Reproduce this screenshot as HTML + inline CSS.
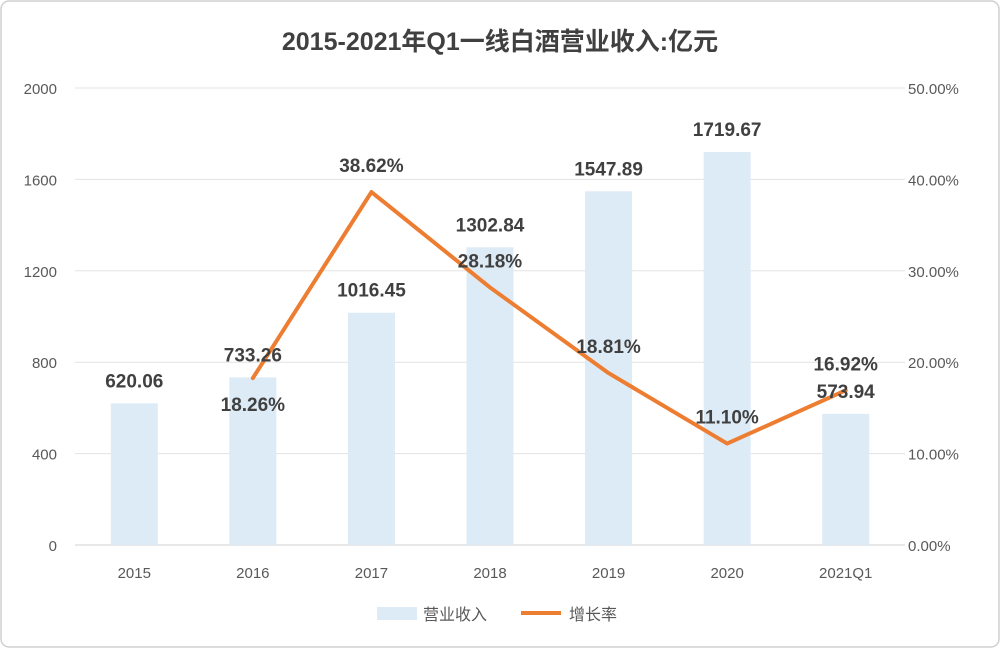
<!DOCTYPE html>
<html><head><meta charset="utf-8">
<style>
html,body{margin:0;padding:0;background:#fff;}
body{width:1000px;height:648px;overflow:hidden;font-family:"Liberation Sans","Noto Sans CJK SC",sans-serif;}
</style></head>
<body>
<svg id="chart" width="1000" height="648" xmlns="http://www.w3.org/2000/svg">
<rect x="1" y="1" width="998" height="646" rx="8" fill="#fff" stroke="#d0d0d0" stroke-width="1.5"/>
<text x="500" y="50" text-anchor="middle" font-size="25" font-weight="bold" fill="#404040" font-family="Liberation Sans,Noto Sans CJK SC,sans-serif">2015-2021年Q1一线白酒营业收入:亿元</text>
<g id="grid"></g><g id="bars"></g><g id="line"></g><g id="labels"></g><g id="axes"></g>
<g>
<rect x="377" y="607" width="40" height="13" fill="#DDEBF7"/>
<text x="423" y="620" font-size="16" fill="#595959">营业收入</text>
<line x1="521" y1="613" x2="561" y2="613" stroke="#ED7D31" stroke-width="4"/>
<text x="569" y="620" font-size="16" fill="#595959">增长率</text>
</g>
</svg>
<script>
const categories=["2015","2016","2017","2018","2019","2020","2021Q1"];
const revenue=[620.06,733.26,1016.45,1302.84,1547.89,1719.67,573.94];
const growth=[null,18.26,38.62,28.18,18.81,11.10,16.92];
const leftTicks=[0,400,800,1200,1600,2000];
const rightTicks=[0,10,20,30,40,50];
const growthLabelBelow=[false,true,false,false,false,false,false];

const NS="http://www.w3.org/2000/svg";
const X0=75,X1=905,Y0=545,Y1=88;
const band=(X1-X0)/categories.length;
const xc=i=>X0+band*(i+0.5);
const yL=v=>Y0-(v/2000)*(Y0-Y1);
const yR=v=>Y0-(v/50)*(Y0-Y1);
function mk(tag,attrs,parent,text){const e=document.createElementNS(NS,tag);for(const k in attrs)e.setAttribute(k,attrs[k]);if(text!==undefined)e.textContent=text;document.getElementById(parent).appendChild(e);return e;}

leftTicks.forEach((t,i)=>{
  const g=mk('line',{x1:X0,x2:X1,y1:yL(t),y2:yL(t),stroke:t===0?'#d0d0d0':'#e3e3e3','stroke-width':1},'grid');
  
  
  const l=mk('text',{x:57,y:yL(t)+6,'text-anchor':'end','font-size':15,fill:'#595959'},'axes',String(t));
  
  
});
rightTicks.forEach(t=>{
  const l=mk('text',{x:908,y:yR(t)+6,'font-size':15,fill:'#595959'},'axes',t.toFixed(2)+'%');
  
  
});
categories.forEach((c,i)=>{
  const l=mk('text',{x:xc(i),y:578,'text-anchor':'middle','font-size':15,fill:'#595959'},'axes',c);
  
  
});
const bw=47;
revenue.forEach((v,i)=>{
  const b=mk('rect',{x:xc(i)-bw/2,y:yL(v),width:bw,height:Y0-yL(v),fill:'#DDEBF7'},'bars');
  
  
});
let pts=[];
growth.forEach((g,i)=>{if(g!==null)pts.push(xc(i)+','+yR(g));});
const pl=mk('polyline',{points:pts.join(' '),fill:'none',stroke:'#ED7D31','stroke-width':4,'stroke-linejoin':'round','stroke-linecap':'round'},'line');


revenue.forEach((v,i)=>{
  const l=mk('text',{x:xc(i),y:yL(v)-16,'text-anchor':'middle','font-size':19,'font-weight':'bold',fill:'#404040'},'labels',v.toFixed(2));
  
  
});
growth.forEach((g,i)=>{
  if(g===null)return;
  const y=growthLabelBelow[i]?yR(g)+33:yR(g)-20;
  const l=mk('text',{x:xc(i),y:y,'text-anchor':'middle','font-size':19,'font-weight':'bold',fill:'#404040'},'labels',g.toFixed(2)+'%');
  
  
});
</script>
</body></html>
